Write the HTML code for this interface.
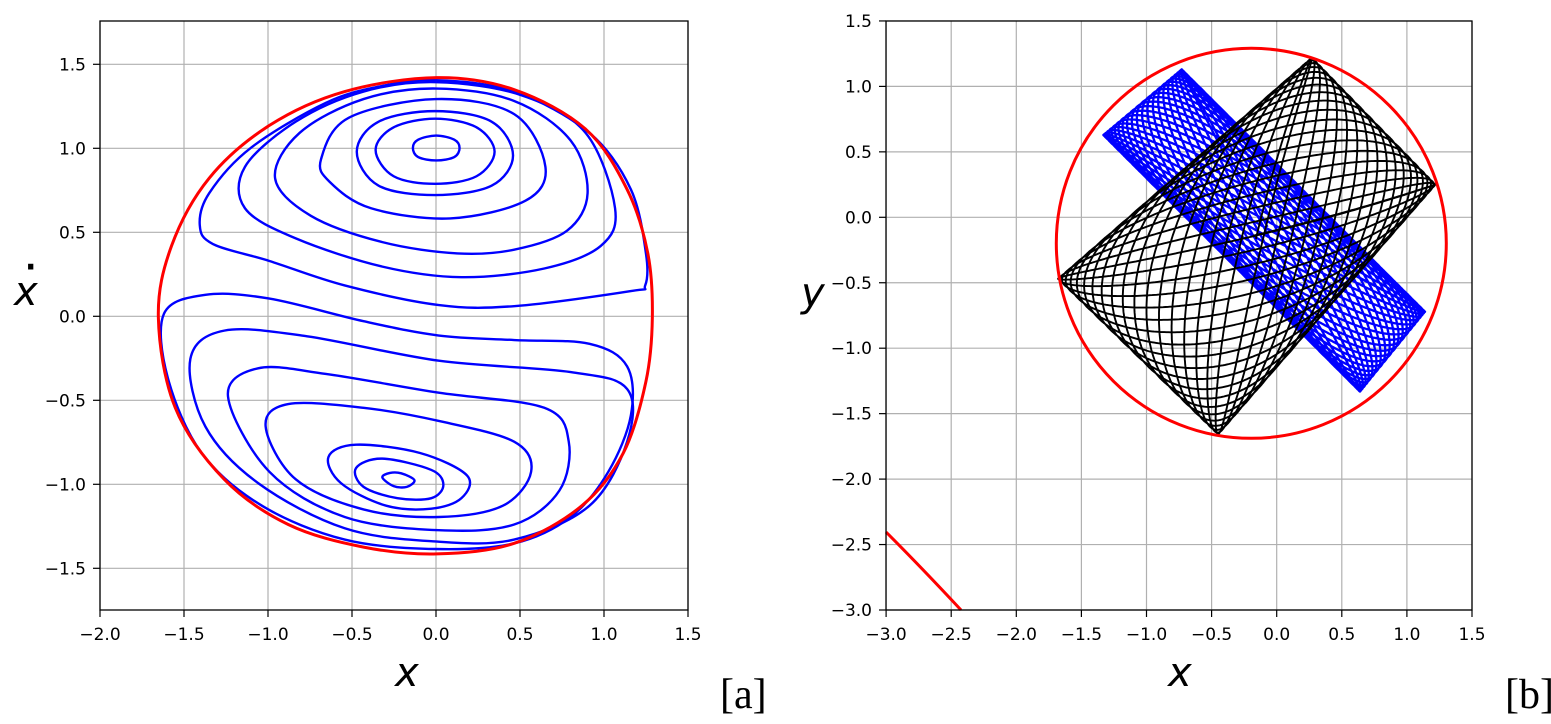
<!DOCTYPE html>
<html><head><meta charset="utf-8"><style>
html,body{margin:0;padding:0;background:#fff;}
svg text{font-family:"DejaVu Sans",sans-serif;}
</style></head><body>
<svg id="s" width="1551" height="719" xmlns="http://www.w3.org/2000/svg">
<rect width="1551" height="719" fill="#fff"/>
<g id="grid" stroke="#b0b0b0" stroke-width="1.2"></g>
<g id="left" transform="translate(100,20) scale(0.37651)" fill="none" stroke-linejoin="round"></g>
<g id="right" fill="none" stroke-linejoin="round"></g>
<rect x="100" y="21" width="588" height="589" fill="none" stroke="#000" stroke-width="1.3"/>
<rect x="886" y="21" width="586" height="589" fill="none" stroke="#000" stroke-width="1.3"/>
<g id="ticks" stroke="#000" stroke-width="1.2"></g>
<g id="labels" font-size="17" fill="#000"></g>
<text x="395" y="686" font-size="40" font-style="italic">x</text>
<text x="14" y="305" font-size="40" font-style="italic">x</text>
<text x="25" y="277" font-size="30" font-weight="bold">·</text>
<text x="801" y="306" font-size="40" font-style="italic">y</text>
<text x="1168" y="686" font-size="40" font-style="italic">x</text>
<text x="720" y="708" font-size="42" style="font-family:'Liberation Serif',serif">[a]</text>
<text x="1505" y="708" font-size="42" style="font-family:'Liberation Serif',serif">[b]</text>
</svg>
<script>
var NS="http://www.w3.org/2000/svg";
function el(p,t,a){var e=document.createElementNS(NS,t);for(var k in a)e.setAttribute(k,a[k]);p.appendChild(e);return e;}
var grid=document.getElementById('grid'),ticks=document.getElementById('ticks'),labels=document.getElementById('labels');
function fmt(v){var s=Math.abs(v).toFixed(1);return (v<-1e-9?'\u2212':'')+s;}
var LX0=436,LS=168,LY0=316.3;
for(var v=-2;v<=1.5001;v+=0.5){var x=LX0+v*LS;el(grid,'line',{x1:x,x2:x,y1:21,y2:610});el(ticks,'line',{x1:x,x2:x,y1:610,y2:617});var t=el(labels,'text',{x:x,y:640,'text-anchor':'middle'});t.textContent=fmt(v);}
for(var v=-1.5;v<=1.5001;v+=0.5){var y=LY0-v*LS;el(grid,'line',{x1:100,x2:688,y1:y,y2:y});el(ticks,'line',{x1:93,x2:100,y1:y,y2:y});var t=el(labels,'text',{x:86,y:y+6,'text-anchor':'end'});t.textContent=fmt(v);}
var RX0=1276.7,RSX=130.2,RY0=217.3,RSY=130.9;
for(var v=-3;v<=1.5001;v+=0.5){var x=RX0+v*RSX;el(grid,'line',{x1:x,x2:x,y1:21,y2:610});el(ticks,'line',{x1:x,x2:x,y1:610,y2:617});var t=el(labels,'text',{x:x,y:640,'text-anchor':'middle'});t.textContent=fmt(v);}
for(var v=-3;v<=1.5001;v+=0.5){var y=RY0-v*RSY;el(grid,'line',{x1:886,x2:1472,y1:y,y2:y});el(ticks,'line',{x1:879,x2:886,y1:y,y2:y});var t=el(labels,'text',{x:872,y:y+6,'text-anchor':'end'});t.textContent=fmt(v);}
function cr(pts){var n=pts.length,d='M'+pts[0][0]+','+pts[0][1];for(var i=0;i<n;i++){var p0=pts[(i-1+n)%n],p1=pts[i],p2=pts[(i+1)%n],p3=pts[(i+2)%n];d+='C'+(p1[0]+(p2[0]-p0[0])/6)+','+(p1[1]+(p2[1]-p0[1])/6)+' '+(p2[0]-(p3[0]-p1[0])/6)+','+(p2[1]-(p3[1]-p1[1])/6)+' '+p2[0]+','+p2[1];}return d+'Z';}
var L=document.getElementById('left');
var blue=[
[[831,340],[845,318],[893,307],[941,318],[955,340],[941,364],[893,373],[845,364]],
[[732,345],[780,285],[890,262],[1000,285],[1048,350],[1000,415],[890,435],[780,415]],
[[682,350],[740,270],[890,242],[1040,270],[1097,360],[1040,440],[890,465],[740,440]],
[[587,370],[660,260],[893,210],[1100,250],[1183,390],[1130,480],[930,527],[720,500],[610,430]],
[[893,182],[1100,215],[1250,320],[1295,460],[1240,560],[1100,610],[950,620],[750,590],[560,520],[465,420],[530,300],[700,210]],
[[893,165],[1120,200],[1290,300],[1368,500],[1330,600],[1180,660],[960,683],[750,655],[520,580],[385,500],[385,390],[520,270],[700,190]],
[[893,160],[1100,190],[1300,300],[1410,450],[1450,620],[1448,705],[1410,720],[1100,760],[900,757],[650,705],[450,640],[300,595],[265,545],[290,460],[400,340],[600,220],[750,175]],
[[750,1215],[770,1203],[800,1204],[835,1222],[815,1240],[780,1238]],
[[680,1190],[750,1165],[880,1195],[912,1235],[880,1270],[790,1270],[700,1240]],
[[607,1160],[680,1128],[850,1150],[975,1210],[960,1270],[880,1298],[760,1290],[640,1230]],
[[440,1080],[500,1020],[700,1030],[900,1065],[1100,1120],[1145,1200],[1070,1290],[900,1320],[700,1300],[520,1220]],
[[340,1000],[420,925],[600,940],[900,990],[1180,1030],[1245,1120],[1220,1250],[1100,1340],[900,1355],[650,1320],[450,1200]],
[[240,900],[330,825],[550,840],[900,905],[1250,935],[1400,980],[1400,1120],[1300,1290],[1100,1380],[890,1385],[650,1350],[420,1230],[280,1080]],
[[170,780],[280,730],[450,740],[700,800],[900,838],[1100,850],[1300,860],[1400,920],[1410,1050],[1350,1200],[1250,1320],[1100,1390],[890,1405],[650,1380],[430,1290],[270,1150],[180,950]]
];
blue.forEach(function(p){el(L,'path',{d:cr(p),stroke:'#0000ff','stroke-width':2.4,'vector-effect':'non-scaling-stroke'});});
var red=[[895,153],[1100,185],[1290,290],[1400,450],[1455,620],[1467,790],[1450,960],[1390,1150],[1280,1290],[1100,1390],[895,1418],[700,1400],[500,1340],[330,1220],[200,1030],[155,790],[190,600],[290,420],[450,280],[650,190]];
el(L,'path',{d:cr(red),stroke:'#ff0000','stroke-width':3,'vector-effect':'non-scaling-stroke'});
var R=document.getElementById('right');
function liss(A,B,C,D,r,ph,T,N){var d='';for(var i=0;i<=N;i++){var t=T*i/N,s=(Math.sin(t)+1)/2,w=(Math.sin(r*t+ph)+1)/2;
var x=s*w*A[0]+s*(1-w)*B[0]+(1-s)*(1-w)*C[0]+(1-s)*w*D[0];
var y=s*w*A[1]+s*(1-w)*B[1]+(1-s)*(1-w)*C[1]+(1-s)*w*D[1];
d+=(i?'L':'M')+x.toFixed(1)+','+y.toFixed(1);}return d;}
el(R,'path',{d:liss([1181.7,69.3],[1103.3,135],[1360,391.7],[1425,311.7],1.022,0.0,2*Math.PI*23,9000),stroke:'#0000ff','stroke-width':2.3});
el(R,'path',{d:liss([1311.9,57.6],[1435.5,184.6],[1218.1,434.6],[1058,278.8],1.026,0.0,2*Math.PI*19.5,9000),stroke:'#000','stroke-width':1.9});
el(R,'ellipse',{cx:1251.3,cy:243.3,rx:195,ry:195,stroke:'#ff0000','stroke-width':3});
el(R,'path',{d:'M886,532 Q920,566 961,610',stroke:'#ff0000','stroke-width':3});
</script>
</body></html>
